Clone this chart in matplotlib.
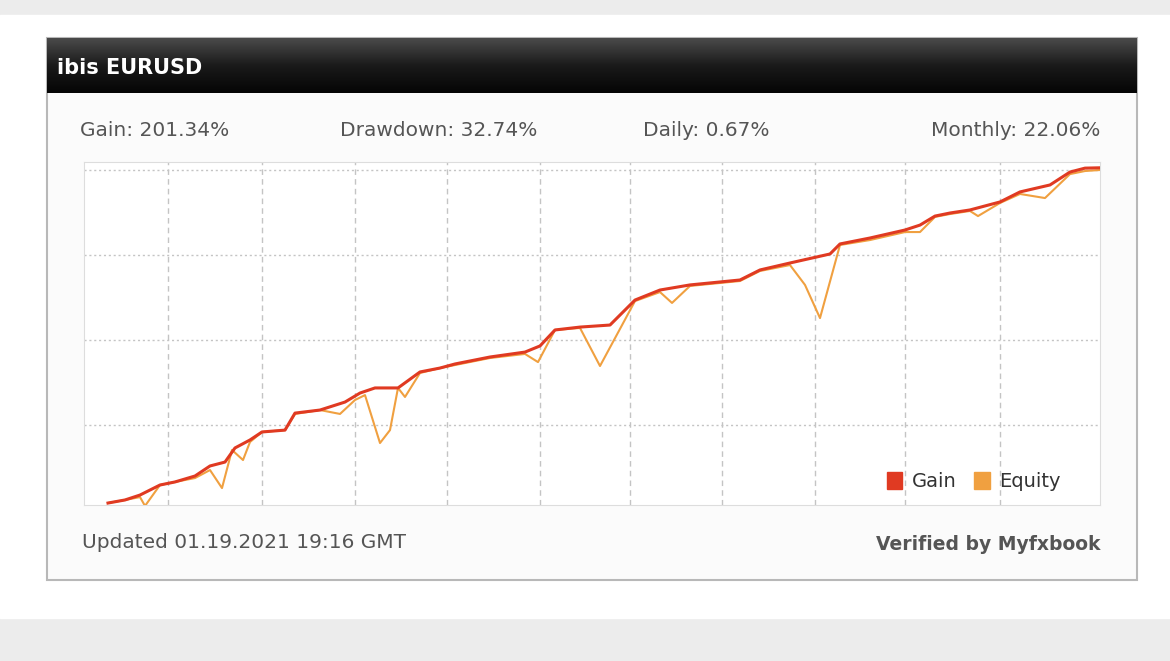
import numpy as np
import matplotlib
matplotlib.use('Agg')
import matplotlib.pyplot as plt
from matplotlib.patches import Rectangle, Patch

plt.rcParams['font.family'] = ['DejaVu Sans']

# ---- data (time index, gain %) ----
gain_x = [108, 125, 140, 160, 175, 195, 210, 225, 235, 250, 262, 285, 295, 320, 345, 360, 375, 398,
          420, 440, 455, 490, 525, 540, 555, 580, 610, 635, 660, 690, 740, 760, 790, 830, 840, 870,
          905, 920, 935, 950, 970, 1000, 1020, 1050, 1070, 1085, 1100]
gain_y = [4.1, 5.9, 8.8, 14.7, 16.5, 20.0, 25.9, 28.2, 36.5, 41.2, 45.9, 47.0, 57.0, 58.8, 63.5, 68.8,
          71.8, 71.8, 81.2, 83.5, 85.9, 90.0, 92.9, 96.5, 105.9, 107.6, 108.8, 123.5, 129.4, 132.4,
          135.3, 141.2, 145.3, 150.6, 156.5, 160.0, 164.7, 167.6, 172.9, 174.7, 176.5, 181.2, 187.1,
          191.2, 198.8, 201.1, 201.3]
eq_x = [108, 125, 140, 145, 160, 175, 195, 210, 222, 232, 243, 250, 262, 285, 295, 320, 340, 355, 365,
        380, 390, 398, 405, 420, 440, 490, 525, 538, 555, 580, 600, 635, 660, 672, 690, 740, 760, 790,
        805, 820, 840, 870, 905, 920, 935, 950, 970, 978, 1000, 1020, 1045, 1070, 1085, 1100]
eq_y = [4.1, 5.9, 7.6, 2.4, 14.7, 16.5, 18.8, 23.5, 12.9, 35.3, 29.4, 40.0, 45.9, 47.0, 56.5, 58.8,
        56.5, 64.7, 67.6, 39.4, 47.0, 71.8, 66.5, 80.6, 83.5, 89.4, 91.8, 87.0, 105.9, 107.1, 84.7,
        122.9, 128.2, 121.8, 131.8, 134.7, 140.6, 144.1, 132.4, 112.9, 155.9, 158.8, 163.5, 163.5,
        172.4, 174.1, 175.9, 172.9, 180.6, 185.9, 183.5, 197.6, 199.4, 200.0]

title = "ibis EURUSD"
stats = ["Gain: 201.34%", "Drawdown: 32.74%", "Daily: 0.67%", "Monthly: 22.06%"]
updated = "Updated 01.19.2021 19:16 GMT"
verified = "Verified by Myfxbook"

W, H = 1170, 661
fig = plt.figure(figsize=(W / 100, H / 100), dpi=100)
fig.patch.set_facecolor('#ececec')

# overlay axes in pixel coordinates for the card decoration
bg = fig.add_axes([0, 0, 1, 1])
bg.set_xlim(0, W)
bg.set_ylim(H, 0)
bg.axis('off')
bg.add_patch(Rectangle((0, 15), W, 603, color='white', zorder=0))
bg.add_patch(Rectangle((47, 38), 1090, 542, facecolor='#fbfbfb', edgecolor='#b8b8b8', lw=1.5, zorder=1))
grad = np.linspace(0, 1, 60).reshape(-1, 1)
bg.imshow(grad, extent=(47, 1137, 93, 38), cmap=matplotlib.colors.LinearSegmentedColormap.from_list(
    'hd', ['#4a4a4a', '#1a1a1a', '#050505']), aspect='auto', zorder=2)
bg.set_xlim(0, W)
bg.set_ylim(H, 0)
bg.text(57, 68, title, color='white', fontsize=15, fontweight='bold', va='center', zorder=3)
for s, x, ha in zip(stats, [80, 340, 643, 1100], ['left', 'left', 'left', 'right']):
    bg.text(x, 130, s, fontsize=14.5, color='#555555', va='center', ha=ha, zorder=3)
bg.text(82, 543, updated, fontsize=14.5, color='#555555', va='center', zorder=3)
bg.text(1100, 544, verified, fontsize=13.5, color='#555555', fontweight='bold', va='center', ha='right', zorder=3)

# plot area
x0, x1, y0, y1 = 84, 1100, 162, 505
ax = fig.add_axes([x0 / W, 1 - y1 / H, (x1 - x0) / W, (y1 - y0) / H])
ax.set_facecolor('white')
ax.set_xlim(84, 1100)
ax.set_ylim((510 - 505) * 50 / 85, (510 - 162) * 50 / 85)
for xv in [168, 262, 355, 447, 540, 630, 722, 815, 905, 1000]:
    ax.axvline(xv, color='#c4c4c4', lw=1, ls=(0, (4, 3)), zorder=1)
for yv in [50, 100, 150, 200]:
    ax.axhline(yv, color='#c4c4c4', lw=1, ls=(0, (1.5, 2)), zorder=1)
for sp in ax.spines.values():
    sp.set_color('#dddddd')
ax.set_xticks([])
ax.set_yticks([])

ax.plot(eq_x, eq_y, color='#f0a040', lw=1.5, zorder=3)
ax.plot(gain_x, gain_y, color='#e03a22', lw=2.2, zorder=4)

ax.legend(handles=[Patch(color='#e03a22', label='Gain'), Patch(color='#f0a040', label='Equity')],
          loc='lower right', frameon=False, ncol=2, fontsize=14, handlelength=0.8,
          handleheight=1.0, columnspacing=0.9, handletextpad=0.5, borderaxespad=0.3,
          labelcolor='#333333', bbox_to_anchor=(0.975, 0.0))

fig.savefig('out.png', dpi=100)
